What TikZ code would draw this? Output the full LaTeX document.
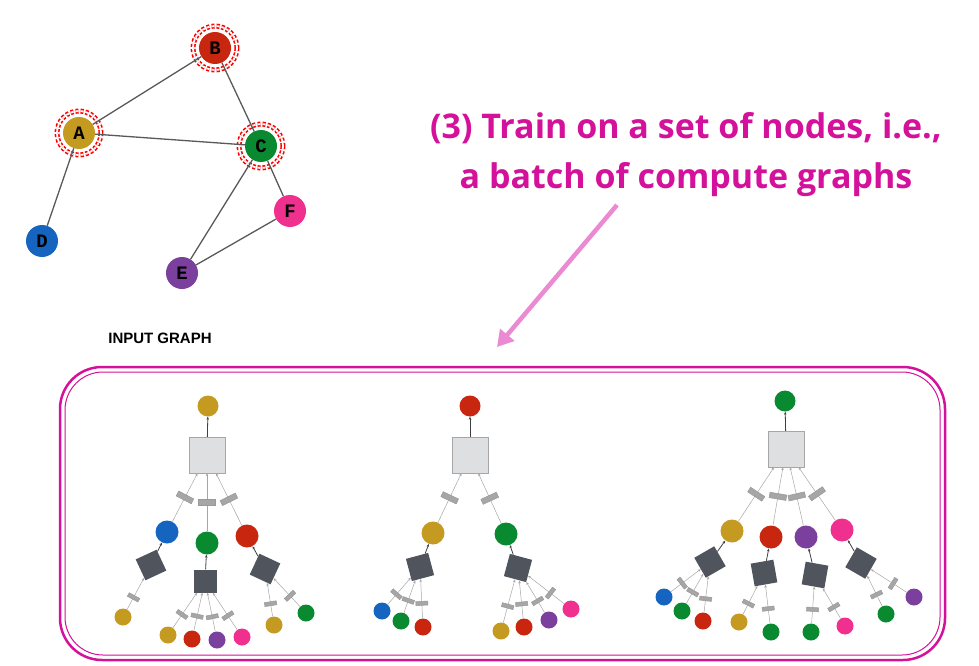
\documentclass[tikz,border=0pt]{standalone}
\usepackage{fontspec}
\setmainfont{Open Sans}
\newfontfamily\monof{Liberation Mono}
\newfontfamily\labf{Liberation Sans}
\usetikzlibrary{arrows.meta}
\definecolor{cgold}{HTML}{C49A21}
\definecolor{cred}{HTML}{C8260F}
\definecolor{cgreen}{HTML}{0A8A30}
\definecolor{cblue}{HTML}{1565C0}
\definecolor{cpurple}{HTML}{7B3F9E}
\definecolor{cpink}{HTML}{F0308F}
\definecolor{magen}{HTML}{D4119A}
\definecolor{arrpink}{HTML}{E98AD3}
\definecolor{lsq}{HTML}{DEDFE1}
\definecolor{dsq}{HTML}{50545C}
\tikzset{
  gnode/.style={circle,fill=#1,minimum size=32pt,inner sep=0pt,font=\monof\bfseries\fontsize{19}{19}\selectfont},
  ring/.style={circle,draw=red,double=white,double distance=1.8pt,line width=1.6pt,dash pattern=on 3pt off 2pt,minimum size=44pt},
  gedge/.style={draw=black!65,line width=1.3pt},
  top/.style={circle,fill=#1,minimum size=21pt,inner sep=0pt},
  mid/.style={circle,fill=#1,minimum size=23pt,inner sep=0pt},
  leaf/.style={circle,fill=#1,minimum size=17pt,inner sep=0pt},
  bigsq/.style={draw=black!35,fill=lsq,minimum size=36pt,inner sep=0pt},
  dksq/.style={fill=dsq,minimum size=23pt,inner sep=0pt},
  msg/.style={draw=black!40,fill=black!35,minimum width=5.5pt,minimum height=17pt,inner sep=0pt,sloped},
  smsg/.style={draw=black!40,fill=black!35,minimum width=4pt,minimum height=12pt,inner sep=0pt,sloped,pos=0.38},
  ced/.style={draw=black!35,line width=0.5pt,-{Stealth[length=3pt,width=2.5pt]}},
  ued/.style={draw=black!75,line width=0.8pt,-{Stealth[length=3pt,width=2.5pt]}},
}
\begin{document}
\begin{tikzpicture}[x=1pt,y=-1pt]
\useasboundingbox (0,0) rectangle (979,666);
% input graph
\node[ring] (rB) at (215,48) {};
\node[ring] (rA) at (79,133) {};
\node[ring] (rC) at (261,146) {};
\node[gnode=cred] (B) at (215,48) {B};
\node[gnode=cgold] (A) at (79,133) {A};
\node[gnode=cgreen] (C) at (261,146) {C};
\node[gnode=cblue] (D) at (42,241) {D};
\node[gnode=cpurple] (E) at (182,273) {E};
\node[gnode=cpink] (F) at (290,211) {F};
\draw[gedge] (A) -- (B);
\draw[gedge] (A) -- (C);
\draw[gedge] (B) -- (C);
\draw[gedge] (A) -- (D);
\draw[gedge] (C) -- (E);
\draw[gedge] (C) -- (F);
\draw[gedge] (E) -- (F);
\node[font=\labf\bfseries\fontsize{15}{15}\selectfont] (lab) at (160,338) {INPUT GRAPH};
% title and arrow
\node[text=magen,font=\bfseries\fontsize{34}{50}\selectfont,align=center] (title) at (686,155) {(3) Train on a set of nodes, i.e.,\\a batch of compute graphs};
\coordinate (at) at (617,205);
\coordinate (ah) at (497,347);
\draw[arrpink,line width=4.5pt,-{Triangle[length=16pt,width=18pt]}] (at) -- (ah);
% frame
\draw[magen,line width=2.5pt,rounded corners=42pt] (60,367) rectangle (945,660);
\draw[magen,line width=1pt,rounded corners=38pt] (65,372) rectangle (940,655);
% compute graph A
\node[top=cgold] (a0) at (208,406) {};
\node[bigsq] (aS) at (207,455) {};
\node[mid=cblue] (a1) at (167,532) {};
\node[mid=cgreen] (a2) at (207,543) {};
\node[mid=cred] (a3) at (247,536) {};
\node[dksq,rotate=25] (aq1) at (151,565) {};
\node[dksq] (aq2) at (205,581) {};
\node[dksq,rotate=-25] (aq3) at (265,569) {};
\node[leaf=cgold] (a11) at (123,617) {};
\node[leaf=cgold] (a21) at (168,635) {};
\node[leaf=cred] (a22) at (192,639) {};
\node[leaf=cpurple] (a23) at (217,640) {};
\node[leaf=cpink] (a24) at (242,637) {};
\node[leaf=cgold] (a31) at (274,625) {};
\node[leaf=cgreen] (a32) at (306,613) {};
\draw[ued] (aS) -- (a0);
\draw[ued] (aq1) -- (a1);
\draw[ued] (aq2) -- (a2);
\draw[ued] (aq3) -- (a3);
\foreach \c/\p in {a1/aS,a2/aS,a3/aS}
  \draw[ced] (\c) -- node[msg]{} (\p);
\foreach \c/\p in {a11/aq1,a21/aq2,a22/aq2,a23/aq2,a24/aq2,a31/aq3,a32/aq3}
  \draw[ced] (\c) -- node[smsg]{} (\p);
% compute graph B
\node[top=cred] (b0) at (470,406) {};
\node[bigsq] (bS) at (470,455) {};
\node[mid=cgold] (b1) at (433,533) {};
\node[mid=cgreen] (b2) at (506,534) {};
\node[dksq,rotate=15] (bq1) at (420,567) {};
\node[dksq,rotate=-15] (bq2) at (518,568) {};
\node[leaf=cblue] (b11) at (382,611) {};
\node[leaf=cgreen] (b12) at (401,621) {};
\node[leaf=cred] (b13) at (423,627) {};
\node[leaf=cgold] (b21) at (501,631) {};
\node[leaf=cred] (b22) at (524,627) {};
\node[leaf=cpurple] (b23) at (549,620) {};
\node[leaf=cpink] (b24) at (571,609) {};
\draw[ued] (bS) -- (b0);
\draw[ued] (bq1) -- (b1);
\draw[ued] (bq2) -- (b2);
\foreach \c/\p in {b1/bS,b2/bS}
  \draw[ced] (\c) -- node[msg]{} (\p);
\foreach \c/\p in {b11/bq1,b12/bq1,b13/bq1,b21/bq2,b22/bq2,b23/bq2,b24/bq2}
  \draw[ced] (\c) -- node[smsg]{} (\p);
% compute graph C
\node[top=cgreen] (c0) at (785,401) {};
\node[bigsq] (cS) at (786,449) {};
\node[mid=cgold] (c1) at (732,531) {};
\node[mid=cred] (c2) at (771,537) {};
\node[mid=cpurple] (c3) at (806,537) {};
\node[mid=cpink] (c4) at (842,530) {};
\node[dksq,rotate=30] (cq1) at (710,562) {};
\node[dksq,rotate=10] (cq2) at (764,573) {};
\node[dksq,rotate=-10] (cq3) at (815,575) {};
\node[dksq,rotate=-30] (cq4) at (861,563) {};
\node[leaf=cblue] (c11) at (664,597) {};
\node[leaf=cgreen] (c12) at (682,611) {};
\node[leaf=cred] (c13) at (703,621) {};
\node[leaf=cgold] (c21) at (739,622) {};
\node[leaf=cgreen] (c22) at (771,632) {};
\node[leaf=cgreen] (c31) at (811,632) {};
\node[leaf=cpink] (c32) at (845,626) {};
\node[leaf=cgreen] (c41) at (886,614) {};
\node[leaf=cpurple] (c42) at (914,597) {};
\draw[ued] (cS) -- (c0);
\draw[ued] (cq1) -- (c1);
\draw[ued] (cq2) -- (c2);
\draw[ued] (cq3) -- (c3);
\draw[ued] (cq4) -- (c4);
\foreach \c/\p in {c1/cS,c2/cS,c3/cS,c4/cS}
  \draw[ced] (\c) -- node[msg]{} (\p);
\foreach \c/\p in {c11/cq1,c12/cq1,c13/cq1,c21/cq2,c22/cq2,c31/cq3,c32/cq3,c41/cq4,c42/cq4}
  \draw[ced] (\c) -- node[smsg]{} (\p);
\end{tikzpicture}
\end{document}
